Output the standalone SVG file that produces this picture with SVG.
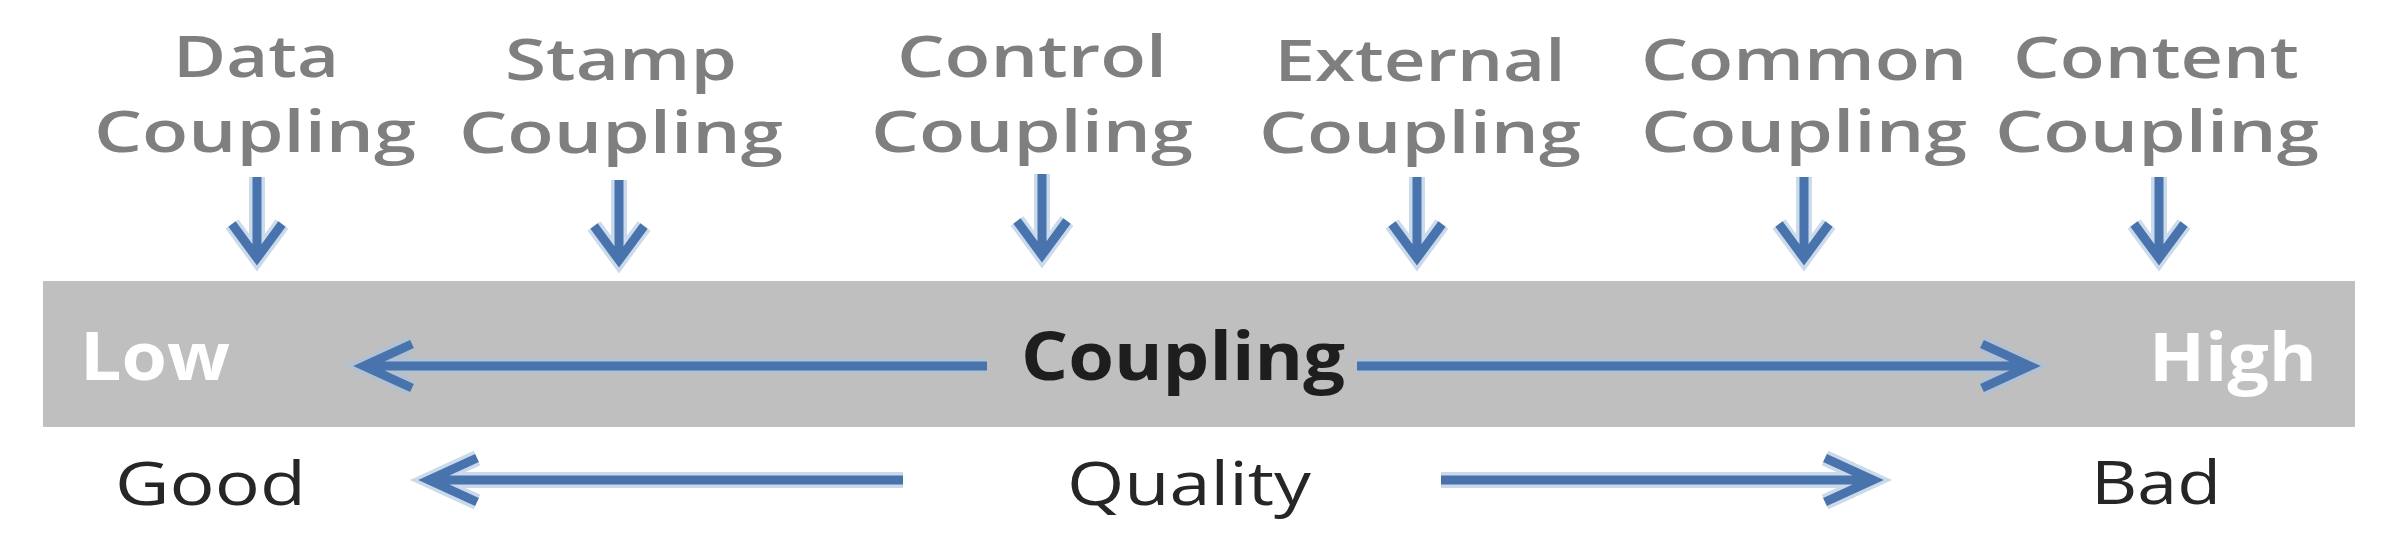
<svg xmlns="http://www.w3.org/2000/svg" width="2400" height="556" viewBox="0 0 2400 556">
<style>
.top{font-family:"Open Sans","Liberation Sans",sans-serif;font-size:57px;font-weight:600;fill:#7f7f7f;text-anchor:middle}
.bar{font-family:"Open Sans","Liberation Sans",sans-serif;font-size:66px;font-weight:700}
.bot{font-family:"Open Sans","Liberation Sans",sans-serif;font-size:60px;font-weight:400;fill:#262626}
.halo{stroke:#a9c3de;stroke-width:16;fill:none;stroke-linecap:butt;stroke-linejoin:miter;opacity:0.6}
.core{stroke:#4873ad;stroke-width:9;fill:none;stroke-linecap:butt;stroke-linejoin:miter}
</style>
<rect width="2400" height="556" fill="#ffffff"/>
<g id="scale-bar">
<rect x="43" y="281" width="2312" height="146" fill="#bfbfbf"/>
<text class="bar" x="80" y="380" fill="#ffffff" textLength="150" lengthAdjust="spacingAndGlyphs">Low</text>
<text class="bar" x="1021" y="380" fill="#1e1e1e" textLength="324" lengthAdjust="spacingAndGlyphs">Coupling</text>
<text class="bar" x="2149" y="381" fill="#ffffff" textLength="168" lengthAdjust="spacingAndGlyphs">High</text>
</g>
<g id="n-data"><text class="top" x="256" y="77" textLength="166" lengthAdjust="spacingAndGlyphs">Data</text><text class="top" x="255" y="152" textLength="322" lengthAdjust="spacingAndGlyphs">Coupling</text></g>
<g id="n-stamp"><text class="top" x="621" y="80" textLength="232" lengthAdjust="spacingAndGlyphs">Stamp</text><text class="top" x="621" y="153" textLength="324" lengthAdjust="spacingAndGlyphs">Coupling</text></g>
<g id="n-control"><text class="top" x="1032" y="77" textLength="270" lengthAdjust="spacingAndGlyphs">Control</text><text class="top" x="1032" y="152" textLength="322" lengthAdjust="spacingAndGlyphs">Coupling</text></g>
<g id="n-external"><text class="top" x="1420" y="81" textLength="291" lengthAdjust="spacingAndGlyphs">External</text><text class="top" x="1420" y="153" textLength="322" lengthAdjust="spacingAndGlyphs">Coupling</text></g>
<g id="n-common"><text class="top" x="1804" y="80" textLength="326" lengthAdjust="spacingAndGlyphs">Common</text><text class="top" x="1804" y="152" textLength="326" lengthAdjust="spacingAndGlyphs">Coupling</text></g>
<g id="n-content"><text class="top" x="2156" y="78" textLength="286" lengthAdjust="spacingAndGlyphs">Content</text><text class="top" x="2157" y="152" textLength="324" lengthAdjust="spacingAndGlyphs">Coupling</text></g>
<g id="n-quality">
<text class="bot" x="115" y="505" textLength="191" lengthAdjust="spacingAndGlyphs">Good</text>
<text class="bot" x="1067" y="505" textLength="244" lengthAdjust="spacingAndGlyphs">Quality</text>
<text class="bot" x="2091" y="504" textLength="130" lengthAdjust="spacingAndGlyphs">Bad</text>
</g>
<g id="connectors">
<g class="halo">
<path d="M257 177V258M232 224L257 258L282 224"/>
<path d="M619 180V260M594 226L619 260L644 226"/>
<path d="M1042 174V255M1017 221L1042 255L1067 221"/>
<path d="M1417 177V258M1392 224L1417 258L1442 224"/>
<path d="M1804 177V258M1779 224L1804 258L1829 224"/>
<path d="M2159 177V258M2134 224L2159 258L2184 224"/>
<path d="M987 366H364M412 344L364 366L412 388"/>
<path d="M1357 366H2030M1982 344L2030 366L1982 388"/>
<path d="M903 480H429M477 458L429 480L477 502"/>
<path d="M1441 480H1873M1825 458L1873 480L1825 502"/>
</g>
<g class="core">
<path d="M257 177V258M232 224L257 258L282 224"/>
<path d="M619 180V260M594 226L619 260L644 226"/>
<path d="M1042 174V255M1017 221L1042 255L1067 221"/>
<path d="M1417 177V258M1392 224L1417 258L1442 224"/>
<path d="M1804 177V258M1779 224L1804 258L1829 224"/>
<path d="M2159 177V258M2134 224L2159 258L2184 224"/>
<path d="M987 366H364M412 344L364 366L412 388"/>
<path d="M1357 366H2030M1982 344L2030 366L1982 388"/>
<path d="M903 480H429M477 458L429 480L477 502"/>
<path d="M1441 480H1873M1825 458L1873 480L1825 502"/>
</g>
</g>
</svg>
